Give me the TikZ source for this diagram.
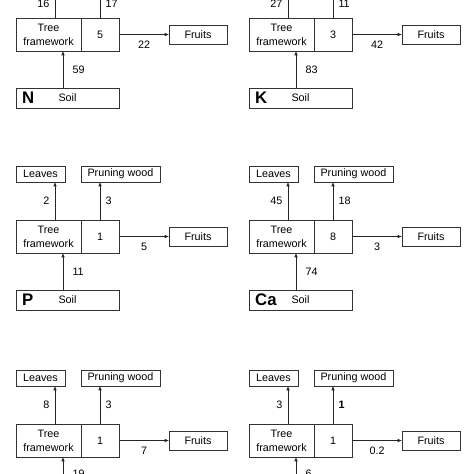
\documentclass[tikz,border=0pt]{standalone}
\usepackage{fontspec}
\setmainfont{Liberation Sans}
\usetikzlibrary{positioning, arrows.meta, calc}

\begin{document}
\begin{tikzpicture}[
    x=0.3mm, y=-0.3mm,
    font=\fontsize{9.2}{12}\selectfont,
    box/.style={
        draw=black!80,
        line width=0.6pt,
        rectangle,
        outer sep=0pt,
        inner sep=0pt,
        align=center
    },
    treebox/.style={box, minimum width=19.5mm, minimum height=9.9mm},
    poolbox/.style={box, minimum width=11.4mm, minimum height=9.9mm},
    leafbox/.style={box, minimum width=14.7mm, minimum height=4.8mm},
    woodbox/.style={box, minimum width=23.7mm, minimum height=4.8mm},
    fruitbox/.style={box, minimum width=17.4mm, minimum height=5.7mm},
    soilbox/.style={box, minimum width=30.9mm, minimum height=6mm},
    elem/.style={font=\fontsize{14.3}{16}\selectfont\bfseries, inner sep=0pt},
    arrow/.style={-{Latex[length=1.3mm, width=1.1mm]}, line width=0.6pt, draw=black!85},
    amount/.style={inner sep=1pt}
]

\path[use as bounding box, clip] (0,0) rectangle (474,474);

% Nitrogen (top left)
\node[treebox, anchor=north west] (treeN) at (16,18) {Tree\\framework};
\node[poolbox, right=0pt of treeN] (poolN) {5};
\coordinate (leavesN) at ($(treeN.north west)+(39,-28)$);
\coordinate (woodN) at ($(poolN.north west)+(19,-28)$);
\node[fruitbox, right=15mm of poolN] (fruitsN) {Fruits};
\node[soilbox, below=11.1mm of treeN.south west, anchor=north west] (soilN) {Soil};
\node[elem, right=1.8mm of soilN.west] (elemN) {N};

\draw[arrow] (leavesN |- treeN.north) -- (leavesN)
  node[amount, midway, left=1.2mm] {16};
\draw[arrow] (woodN |- poolN.north) -- (woodN)
  node[amount, midway, right=1.2mm] {17};
\draw[arrow] (poolN.east) -- (fruitsN.west)
  node[amount, midway, below=1.5mm] {22};
\draw[arrow] ([xshift=14.1mm]soilN.north west) -- ([xshift=14.1mm]treeN.south west)
  node[amount, midway, right=2.4mm] {59};

% Potassium (top right)
\node[treebox, anchor=north west] (treeK) at (249,18) {Tree\\framework};
\node[poolbox, right=0pt of treeK] (poolK) {3};
\coordinate (leavesK) at ($(treeK.north west)+(39,-28)$);
\coordinate (woodK) at ($(poolK.north west)+(19,-28)$);
\node[fruitbox, right=15mm of poolK] (fruitsK) {Fruits};
\node[soilbox, below=11.1mm of treeK.south west, anchor=north west] (soilK) {Soil};
\node[elem, right=1.8mm of soilK.west] (elemK) {K};

\draw[arrow] (leavesK |- treeK.north) -- (leavesK)
  node[amount, midway, left=1.2mm] {27};
\draw[arrow] (woodK |- poolK.north) -- (woodK)
  node[amount, midway, right=1.2mm] {11};
\draw[arrow] (poolK.east) -- (fruitsK.west)
  node[amount, midway, below=1.5mm] {42};
\draw[arrow] ([xshift=14.1mm]soilK.north west) -- ([xshift=14.1mm]treeK.south west)
  node[amount, midway, right=2.4mm] {83};

% Phosphorus (middle left)
\node[treebox, anchor=north west] (treeP) at (16,220) {Tree\\framework};
\node[poolbox, right=0pt of treeP] (poolP) {1};
\node[leafbox, above=11.4mm of treeP.north west, anchor=south west] (leavesP) {Leaves};
\node[woodbox, above=11.4mm of poolP.north west, anchor=south west] (woodP) {Pruning wood};
\node[fruitbox, right=15mm of poolP] (fruitsP) {Fruits};
\node[soilbox, below=11.1mm of treeP.south west, anchor=north west] (soilP) {Soil};
\node[elem, right=1.8mm of soilP.west] (elemP) {P};

\draw[arrow] ([xshift=11.7mm]treeP.north west) -- ([xshift=11.7mm]treeP.north west |- leavesP.south)
  node[amount, midway, left=1.2mm] {2};
\draw[arrow] ([xshift=5.7mm]poolP.north west) -- ([xshift=5.7mm]poolP.north west |- woodP.south)
  node[amount, midway, right=1.2mm] {3};
\draw[arrow] (poolP.east) -- (fruitsP.west)
  node[amount, midway, below=1.5mm] {5};
\draw[arrow] ([xshift=14.1mm]soilP.north west) -- ([xshift=14.1mm]treeP.south west)
  node[amount, midway, right=2.4mm] {11};

% Calcium (middle right)
\node[treebox, anchor=north west] (treeCa) at (249,220) {Tree\\framework};
\node[poolbox, right=0pt of treeCa] (poolCa) {8};
\node[leafbox, above=11.4mm of treeCa.north west, anchor=south west] (leavesCa) {Leaves};
\node[woodbox, above=11.4mm of poolCa.north west, anchor=south west] (woodCa) {Pruning wood};
\node[fruitbox, right=15mm of poolCa] (fruitsCa) {Fruits};
\node[soilbox, below=11.1mm of treeCa.south west, anchor=north west] (soilCa) {Soil};
\node[elem, right=1.8mm of soilCa.west] (elemCa) {Ca};

\draw[arrow] ([xshift=11.7mm]treeCa.north west) -- ([xshift=11.7mm]treeCa.north west |- leavesCa.south)
  node[amount, midway, left=1.2mm] {45};
\draw[arrow] ([xshift=5.7mm]poolCa.north west) -- ([xshift=5.7mm]poolCa.north west |- woodCa.south)
  node[amount, midway, right=1.2mm] {18};
\draw[arrow] (poolCa.east) -- (fruitsCa.west)
  node[amount, midway, below=1.5mm] {3};
\draw[arrow] ([xshift=14.1mm]soilCa.north west) -- ([xshift=14.1mm]treeCa.south west)
  node[amount, midway, right=2.4mm] {74};

% Bottom left (soil box below the frame)
\node[treebox, anchor=north west] (treeBL) at (16,424) {Tree\\framework};
\node[poolbox, right=0pt of treeBL] (poolBL) {1};
\node[leafbox, above=11.4mm of treeBL.north west, anchor=south west] (leavesBL) {Leaves};
\node[woodbox, above=11.4mm of poolBL.north west, anchor=south west] (woodBL) {Pruning wood};
\node[fruitbox, right=15mm of poolBL] (fruitsBL) {Fruits};
\coordinate (soilBL) at ($(treeBL.south west)+(47,34)$);

\draw[arrow] ([xshift=11.7mm]treeBL.north west) -- ([xshift=11.7mm]treeBL.north west |- leavesBL.south)
  node[amount, midway, left=1.2mm] {8};
\draw[arrow] ([xshift=5.7mm]poolBL.north west) -- ([xshift=5.7mm]poolBL.north west |- woodBL.south)
  node[amount, midway, right=1.2mm] {3};
\draw[arrow] (poolBL.east) -- (fruitsBL.west)
  node[amount, midway, below=1.5mm] {7};
\draw[arrow] (soilBL) -- (soilBL |- treeBL.south)
  node[amount, midway, right=2.4mm] {19};

% Bottom right (soil box below the frame)
\node[treebox, anchor=north west] (treeBR) at (249,424) {Tree\\framework};
\node[poolbox, right=0pt of treeBR] (poolBR) {1};
\node[leafbox, above=11.4mm of treeBR.north west, anchor=south west] (leavesBR) {Leaves};
\node[woodbox, above=11.4mm of poolBR.north west, anchor=south west] (woodBR) {Pruning wood};
\node[fruitbox, right=15mm of poolBR] (fruitsBR) {Fruits};
\coordinate (soilBR) at ($(treeBR.south west)+(47,34)$);

\draw[arrow] ([xshift=11.7mm]treeBR.north west) -- ([xshift=11.7mm]treeBR.north west |- leavesBR.south)
  node[amount, midway, left=1.2mm] {3};
\draw[arrow] ([xshift=5.7mm]poolBR.north west) -- ([xshift=5.7mm]poolBR.north west |- woodBR.south)
  node[amount, midway, right=1.2mm] {\textbf{1}};
\draw[arrow] (poolBR.east) -- (fruitsBR.west)
  node[amount, midway, below=1.5mm] {0.2};
\draw[arrow] (soilBR) -- (soilBR |- treeBR.south)
  node[amount, midway, right=2.4mm] {6};

\end{tikzpicture}
\end{document}
